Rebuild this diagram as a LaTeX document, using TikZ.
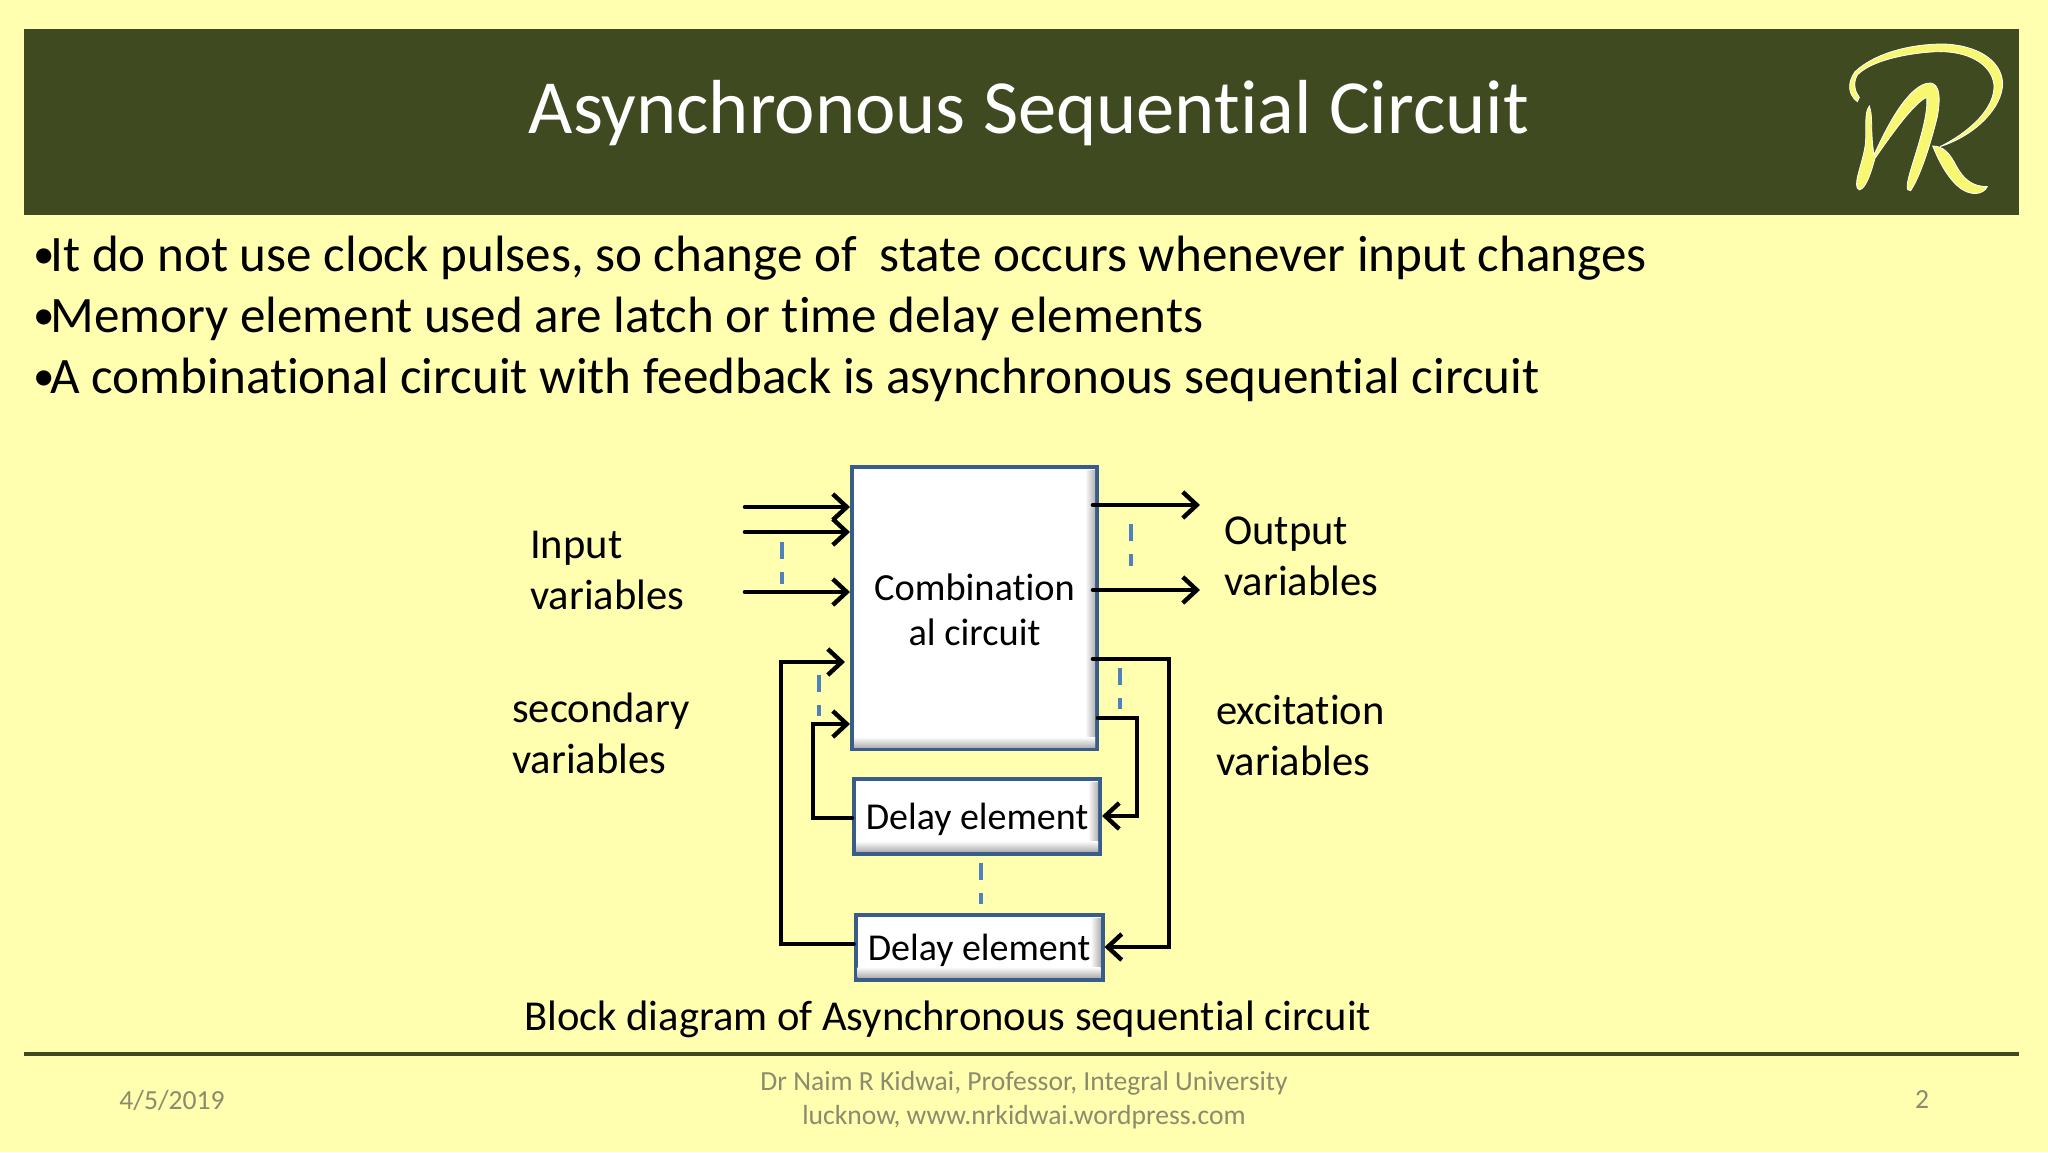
\documentclass[tikz,border=0pt]{standalone}
\usepackage{fontspec}
\setmainfont[Ligatures=NoCommon,RawFeature={-liga;-clig}]{Carlito}
\definecolor{bgy}{HTML}{FFFFAF}
\definecolor{bar}{HTML}{3F4A21}
\definecolor{edgeb}{HTML}{385D8A}
\definecolor{dashb}{HTML}{4F81BD}
\definecolor{foot}{HTML}{8B8B6E}
\definecolor{logoy}{HTML}{F8F870}
\newcommand{\bul}{{\fontsize{43}{43}\selectfont\raisebox{3pt}{•}\kern-4pt}}
\usetikzlibrary{arrows.meta}
\tikzset{
  blockbox/.style={draw=edgeb,line width=4pt,fill=white,inner sep=0pt,align=center,text=black},
  lbl/.style={inner sep=0pt,anchor=west,align=left,font=\fontsize{42.6}{51}\selectfont},
  bullet/.style={inner sep=0pt,anchor=west,font=\fontsize{51.1}{56}\selectfont},
  footer/.style={inner sep=0pt,text=foot,align=center,font=\fontsize{27.6}{34}\selectfont},
  wire/.style={line width=4.6pt,black,line cap=round,line join=miter},
  arrowwire/.style={wire,-{Straight Barb[length=14pt,width=26pt,line width=4.4pt]}},
  dots/.style={line width=4.8pt,dashb,dash pattern=on 17pt off 13pt},
  logostroke/.style={fill=logoy,draw=white,line width=0.8pt}
}
\begin{document}
\begin{tikzpicture}[x=1pt,y=-1pt]
\useasboundingbox (0,0) rectangle (2048,1152);
\fill[bgy] (0,0) rectangle (2048,1152);
\fill[bar] (24,29) rectangle (2019,215);
\node[inner sep=0pt,text=white,font=\fontsize{76.6}{80}\selectfont] (title) at (1029,113) {Asynchronous Sequential Circuit};
% logo
\begin{scope}[shift={(1780,20)},x=0.3333pt,y=-0.3333pt]
\path[logostroke] (232,245) .. controls (205,225) and (200,190) .. (225,155) .. controls (290,95) and (400,72) .. (490,72)
  .. controls (590,75) and (665,120) .. (668,190) .. controls (668,260) and (590,345) .. (480,380)
  .. controls (570,335) and (645,265) .. (642,195) .. controls (635,130) and (560,92) .. (470,95)
  .. controls (370,100) and (270,125) .. (232,165) .. controls (218,190) and (225,215) .. (238,232) -- cycle;
\path[logostroke] (268,258) .. controls (280,290) and (270,330) .. (282,405) .. controls (320,320) and (380,205) .. (440,190)
  .. controls (475,182) and (485,220) .. (472,290) .. controls (450,380) and (420,470) .. (392,512)
  .. controls (375,515) and (380,490) .. (395,440) .. controls (420,360) and (445,280) .. (440,232)
  .. controls (400,250) and (330,350) .. (285,415) .. controls (275,450) and (260,505) .. (238,510)
  .. controls (215,500) and (245,440) .. (255,380) .. controls (262,330) and (250,280) .. (268,258) -- cycle;
\path[logostroke] (458,378) .. controls (490,378) and (510,400) .. (530,440) .. controls (550,475) and (575,500) .. (622,500)
  .. controls (610,525) and (570,530) .. (535,500) .. controls (500,470) and (475,420) .. (458,378) -- cycle;
\end{scope}
% bullets
\node[bullet] (b1) at (33,258) {\bul It do not use clock pulses, so change of\ \ state occurs whenever input changes};
\node[bullet] (b2) at (33,319) {\bul Memory element used are latch or time delay elements};
\node[bullet] (b3) at (33,380) {\bul A combinational circuit with feedback is asynchronous sequential circuit};
% blocks
\node[blockbox,minimum width=245pt,minimum height=282pt,font=\fontsize{38.4}{45}\selectfont,text height=75pt,text depth=0pt] (main) at (974.5,608) {Combination\\al circuit};
\node[blockbox,minimum width=246pt,minimum height=75pt,font=\fontsize{38}{45}\selectfont,text height=30pt,text depth=4pt] (d1) at (977,816) {Delay element};
\node[blockbox,minimum width=247pt,minimum height=65pt,font=\fontsize{38}{45}\selectfont,text height=30pt,text depth=4pt] (d2) at (979,947) {Delay element};
% bevels
\foreach \b/\xa/\ya/\xb/\yb in {main/852/467/1097/749,d1/854/779/1100/853,d2/855.5/915/1102.5/979}{
  \shade[left color=white,right color=black!30] (\xb-12,\ya+3) rectangle (\xb-2,\yb-2);
  \shade[top color=white,bottom color=black!30] (\xa+2,\yb-12) rectangle (\xb-2,\yb-2);
}
\coordinate (i1) at (745,507);
\coordinate (i2) at (745,532);
\coordinate (i3) at (745,592);
\coordinate (o1s) at (1093,505);
\coordinate (o1e) at (1200,505);
\coordinate (o2s) at (1093,590);
\coordinate (o2e) at (1200,590);
\coordinate (fo) at (1093,659);
\coordinate (fx) at (1169,659);
\coordinate (go) at (1098,718);
\coordinate (gx) at (1137,718);
\coordinate (hx) at (813,818);
\coordinate (hy) at (813,724);
\coordinate (jx) at (781,944);
\coordinate (jy) at (781,662);
\coordinate (jt) at (845,662);
\draw[arrowwire] (i1) -- (main.west |- i1);
\draw[arrowwire] (i2) -- (main.west |- i2);
\draw[arrowwire] (i3) -- (main.west |- i3);
\draw[arrowwire] (o1s) -- (o1e);
\draw[arrowwire] (o2s) -- (o2e);
\draw[arrowwire] (fo) -- (fx) |- (d2.east);
\draw[arrowwire] (go) -- (gx) |- (d1.east);
\draw[arrowwire] (d1.west |- hx) -- (hx) -- (hy) -- (main.west |- hy);
\draw[arrowwire] (jx -| d2.west) -- (jx) -- (jy) -- (jt);
% dashes
\coordinate (da1) at (782,542); \coordinate (da2) at (782,584);
\coordinate (db1) at (1131,524); \coordinate (db2) at (1131,566);
\coordinate (dc1) at (819,675); \coordinate (dc2) at (819,716);
\coordinate (dd1) at (1120,668); \coordinate (dd2) at (1120,709);
\coordinate (de1) at (981,863); \coordinate (de2) at (981,904);
\draw[dots] (da1) -- (da2);
\draw[dots] (db1) -- (db2);
\draw[dots] (dc1) -- (dc2);
\draw[dots] (dd1) -- (dd2);
\draw[dots] (de1) -- (de2);
% labels
\node[lbl] (linput) at (530,570) {Input\\variables};
\node[lbl] (loutput) at (1224,556) {Output\\variables};
\node[lbl] (lsec) at (512,733) {secondary\\variables};
\node[lbl] (lexc) at (1216,735) {excitation\\variables};
\node[lbl] (cap) at (524,1019) {Block diagram of Asynchronous sequential circuit};
% footer
\draw[bar,line width=4pt] (24,1054) -- (2019,1054);
\node[footer] (fdate) at (172,1100) {4/5/2019};
\node[footer] (fcenter) at (1024,1100) {Dr Naim R Kidwai, Professor, Integral University\\lucknow, www.nrkidwai.wordpress.com};
\node[footer] (fpage) at (1922,1100) {2};
\end{tikzpicture}
\end{document}
